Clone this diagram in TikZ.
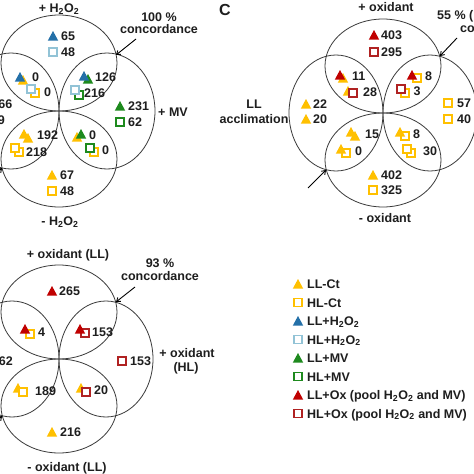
\documentclass[tikz,border=0pt]{standalone}
\usepackage{fontspec}
\setmainfont{Liberation Sans}
\usetikzlibrary{arrows.meta}
\definecolor{cyel}{HTML}{FFC000}
\definecolor{cblue}{HTML}{2470A8}
\definecolor{clb}{HTML}{92C3D6}
\definecolor{cgreen}{HTML}{1E8A1E}
\definecolor{cred}{HTML}{C00000}
\definecolor{csqr}{HTML}{B02222}
\definecolor{vline}{HTML}{3A3A3A}
\definecolor{txt}{HTML}{1E1E1E}
\tikzset{
  venn/.style={draw=vline, line width=0.8pt},
  lbl/.style={inner sep=0pt, font=\bfseries\fontsize{12.5}{13}\selectfont, text=txt, text height=9pt, text depth=0pt},
  num/.style={lbl, anchor=west},
  ptr/.style={draw=black, line width=0.9pt, -{Straight Barb[length=3.5pt,width=5pt]}},
  pics/tri/.style={code={\fill[#1] (-5.2,4.6) -- (5.2,4.6) -- (0,-5) -- cycle;}},
  pics/sq/.style={code={\draw[#1, line width=1.4pt, fill=white] (-3.9,-3.9) rectangle (3.9,3.9);}}
}
\begin{document}
\begin{tikzpicture}[x=1pt,y=-1pt]
\useasboundingbox (0,0) rectangle (474,474);
\clip (0,0) rectangle (474,474);
\fill[white] (0,0) rectangle (474,474);

% ================= Panel A =================
\draw[venn] (59,63) ellipse [x radius=58pt, y radius=48pt];
\draw[venn] (59,159) ellipse [x radius=58pt, y radius=48pt];
\draw[venn] (107,111) ellipse [x radius=48pt, y radius=58pt];
\draw[venn] (11,111) ellipse [x radius=48pt, y radius=58pt];

\node[lbl] (aTopLbl) at (59,8) {+ H\textsubscript{2}O\textsubscript{2}};
\node[lbl] (aBotLbl) at (60,221) {- H\textsubscript{2}O\textsubscript{2}};
\node[lbl] (aMV) at (173,112) {+ MV};
\node[lbl] (aConc1) at (159,17) {100 \%};
\node[lbl] (aConc2) at (159,29) {concordance};
\coordinate (aArrS) at (136,39);
\coordinate (aArrT) at (116,55);
\draw[ptr] (aArrS) -- (aArrT);
\node[lbl, anchor=east] (aCut1) at (12.5,104) {66};
\node[lbl, anchor=east] (aCut2) at (5,120) {9};
\coordinate (aLBs) at (-16,186);
\coordinate (aLBt) at (2,168);
\draw[ptr] (aLBs) -- (aLBt);

\pic at (53,36) {tri=cblue};  \node[num] (a65) at (61,36) {65};
\pic at (53,52) {sq=clb};     \node[num] (a48) at (61,52) {48};
\pic at (23,80) {tri=cyel}; \pic at (20,77) {tri=cblue}; \node[num] (aTL1) at (32,77) {0};
\pic at (35,93) {sq=cyel};  \pic at (31,89) {sq=clb};    \node[num] (aTL2) at (44,92) {0};
\pic at (88,79) {tri=cgreen}; \pic at (84,76) {tri=cblue}; \node[num] (aTR1) at (95,77) {126};
\pic at (79,95) {sq=cgreen}; \pic at (75,90) {sq=clb};    \node[num] (aTR2) at (84,93) {216};
\pic at (120,106) {tri=cgreen}; \node[num] (a231) at (128,106) {231};
\pic at (120,122) {sq=cgreen};  \node[num] (a62) at (128,122) {62};
\pic at (28,138) {tri=cyel}; \pic at (24,134) {tri=cyel}; \node[num] (aLB1) at (37,135) {192};
\pic at (19,152) {sq=cyel};  \pic at (15,148) {sq=cyel};  \node[num] (aLB2) at (26,152) {218};
\pic at (77,137) {tri=cyel}; \pic at (81,134) {tri=cgreen}; \node[num] (aBR1) at (89,135) {0};
\pic at (94,152) {sq=cyel};  \pic at (90,148) {sq=cgreen};  \node[num] (aBR2) at (102,150) {0};
\pic at (52,175) {tri=cyel}; \node[num] (a67) at (60,175) {67};
\pic at (52,191) {sq=cyel};  \node[num] (a48b) at (60,191) {48};

% ================= Panel C =================
\node[lbl, font=\bfseries\fontsize{16}{17}\selectfont, text height=11.4pt] (cLetter) at (225,10) {C};
\draw[venn] (383,66) ellipse [x radius=58pt, y radius=47pt];
\draw[venn] (383,160) ellipse [x radius=58pt, y radius=47pt];
\draw[venn] (430,113) ellipse [x radius=47pt, y radius=58pt];
\draw[venn] (336,113) ellipse [x radius=47pt, y radius=58pt];

\node[lbl] (cTopLbl) at (386,7) {+ oxidant};
\node[lbl] (cBotLbl) at (385,218) {- oxidant};
\node[lbl] (cLL) at (254,104) {LL};
\node[lbl] (cAcc) at (254,119) {acclimation};
\node[lbl, anchor=west] (cConc1) at (437,15) {55 \% (LL)};
\node[lbl, anchor=west] (cConc2) at (460,28) {concordance};
\coordinate (cArrS) at (457,38);
\coordinate (cArrT) at (440,56);
\draw[ptr] (cArrS) -- (cArrT);
\coordinate (cLBs) at (308,188);
\coordinate (cLBt) at (326,170);
\draw[ptr] (cLBs) -- (cLBt);

\pic at (374,35) {tri=cred}; \node[num] (c403) at (381,35) {403};
\pic at (374,52) {sq=csqr};  \node[num] (c295) at (381,52) {295};
\pic at (343,78) {tri=cyel}; \pic at (340,75) {tri=cred}; \node[num] (cTL1) at (352,76) {11};
\pic at (348,91) {tri=cyel}; \pic at (353,93) {sq=csqr}; \node[num] (cTL2) at (363,92) {28};
\pic at (417,78) {sq=cyel};  \pic at (412,75) {tri=cred}; \node[num] (cTR1) at (425,76) {8};
\pic at (405,93) {sq=cyel};  \pic at (401,89) {sq=csqr};  \node[num] (cTR2) at (413.5,91) {3};
\pic at (306,104) {tri=cyel}; \node[num] (c22) at (313,104) {22};
\pic at (306,119) {tri=cyel}; \node[num] (c20) at (313,119) {20};
\pic at (448,103) {sq=cyel}; \node[num] (c57) at (457,103) {57};
\pic at (448,119) {sq=cyel}; \node[num] (c40) at (457,119) {40};
\pic at (355,136) {tri=cyel}; \pic at (351,132) {tri=cyel}; \node[num] (cLB1) at (365,134) {15};
\pic at (346,153) {sq=cyel};  \pic at (341,149) {tri=cyel}; \node[num] (cLB2) at (355,151) {0};
\pic at (405,136) {sq=cyel};  \pic at (400,132) {tri=cyel}; \node[num] (cBR1) at (413,134) {8};
\pic at (411,153) {sq=cyel};  \pic at (407,149) {sq=cyel};  \node[num] (cBR2) at (423,151) {30};
\pic at (373,175) {tri=cyel}; \node[num] (c402) at (381,175) {402};
\pic at (373,190) {sq=cyel};  \node[num] (c325) at (381,190) {325};

% ================= Panel B =================
\draw[venn] (59,312) ellipse [x radius=58pt, y radius=47pt];
\draw[venn] (59,406) ellipse [x radius=58pt, y radius=47pt];
\draw[venn] (106,359) ellipse [x radius=47pt, y radius=58pt];
\draw[venn] (12,359) ellipse [x radius=47pt, y radius=58pt];

\node[lbl] (bTopLbl) at (68,254) {+ oxidant (LL)};
\node[lbl] (bBotLbl) at (67,467) {- oxidant (LL)};
\node[lbl] (bHL1) at (187,353) {+ oxidant};
\node[lbl] (bHL2) at (186,367) {(HL)};
\node[lbl] (bConc1) at (160,263) {93 \%};
\node[lbl] (bConc2) at (160,276) {concordance};
\coordinate (bArrS) at (135,287);
\coordinate (bArrT) at (116,302);
\draw[ptr] (bArrS) -- (bArrT);
\node[lbl, anchor=east] (bCut) at (13,361) {62};
\coordinate (bLBs) at (-16,434);
\coordinate (bLBt) at (2,416);
\draw[ptr] (bLBs) -- (bLBt);

\pic at (52,291) {tri=cred}; \node[num] (b265) at (59,291) {265};
\pic at (30,334) {sq=cyel};  \pic at (25,329) {tri=cred}; \node[num] (bTL) at (38,332) {4};
\pic at (85,333) {sq=csqr};  \pic at (80,329) {tri=cred}; \node[num] (bTR) at (92,332) {153};
\pic at (122,361) {sq=csqr}; \node[num] (b153) at (130,361) {153};
\pic at (18,388) {tri=cyel}; \pic at (23,392) {sq=cyel}; \node[num] (bLB) at (35,391) {189};
\pic at (81,388) {tri=cyel}; \pic at (86,392) {sq=csqr}; \node[num] (bBR) at (94,390) {20};
\pic at (52,432) {tri=cyel}; \node[num] (b216) at (60,432) {216};

% ================= Legend =================
\pic at (298,284) {tri=cyel};   \node[num] (L1) at (307,284) {LL-Ct};
\pic at (298,302.5) {sq=cyel};  \node[num] (L2) at (307,302.5) {HL-Ct};
\pic at (298,321) {tri=cblue};  \node[num] (L3) at (307,321) {LL+H\textsubscript{2}O\textsubscript{2}};
\pic at (298,339.5) {sq=clb};   \node[num] (L4) at (307,339.5) {HL+H\textsubscript{2}O\textsubscript{2}};
\pic at (298,358) {tri=cgreen}; \node[num] (L5) at (307,358) {LL+MV};
\pic at (298,376.5) {sq=cgreen};\node[num] (L6) at (307,376.5) {HL+MV};
\pic at (298,395) {tri=cred};   \node[num] (L7) at (307,395) {LL+Ox (pool H\textsubscript{2}O\textsubscript{2} and MV)};
\pic at (298,413.5) {sq=csqr};  \node[num] (L8) at (307,413.5) {HL+Ox (pool H\textsubscript{2}O\textsubscript{2} and MV)};
\end{tikzpicture}
\end{document}
